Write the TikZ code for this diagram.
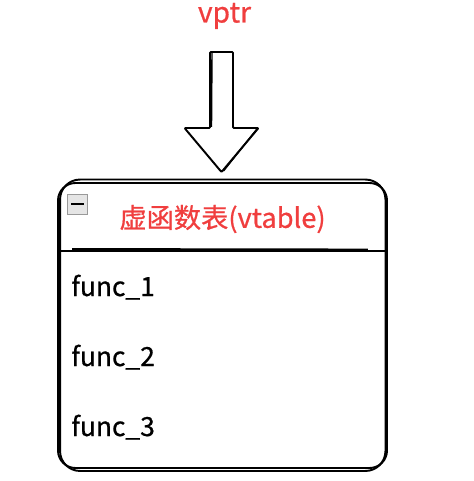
\documentclass[tikz,border=0pt]{standalone}
\usepackage{fontspec}
\setmainfont{Noto Sans CJK SC}[FakeBold=0.7]
\usetikzlibrary{positioning, calc}

\definecolor{sketchred}{RGB}{240,62,62}

\begin{document}
\begin{tikzpicture}[
    label/.style    = {text=sketchred, inner sep=0pt, font=\fontsize{16}{19}\selectfont},
    vtablebox/.style = {draw, rounded corners=0.35cm, line width=1.1pt, minimum width=6.58cm, minimum height=5.7cm},
    entry/.style    = {anchor=base west, inner sep=0pt, font=\fontsize{15}{18}\selectfont},
    rough/.style    = {line width=1.1pt, line join=round, rounded corners=0.5pt},
    icon/.style     = {draw=gray!80, fill=gray!20, minimum size=0.4cm, inner sep=0pt}
]
\useasboundingbox (0,0) rectangle (9.48,-9.62);

% Tabulka virtualnich funkci
\node[vtablebox] (vtable) at (4.45,-6.51) {};
\draw[rough, rounded corners=0.4cm]
    ($(vtable.south west)+(0.06,-0.04)$) rectangle ($(vtable.north east)+(-0.05,0.05)$);

% Hlavicka
\draw[rough] ($(vtable.north west)+(0,-1.38)$) -- ($(vtable.north east)+(0,-1.38)$);
\draw[rough] ($(vtable.north west)+(0.3,-1.34)$) -- ($(vtable.north east)+(-0.4,-1.35)$);
\node[icon] (minus) at ($(vtable.north west)+(0.41,-0.44)$) {};
\draw[line width=1.3pt] ($(minus.west)+(0.08,0)$) -- ($(minus.east)+(-0.08,0)$);
\node[label, font=\fontsize{15.5}{18}\selectfont] (vtitle)
    at ($(vtable.north)+(0,-0.74)$) {虚函数表(vtable)};

% Polozky
\foreach \i in {1,2,3}
    \node[entry] (func\i) at ($(vtable.north west)+(0.28,-2.28-1.4*\i+1.4)$) {func\_\i};

% Ukazatel vptr
\node[label, anchor=base, text height=1.6ex, text depth=0.5ex] (vptr) at (4.49,-0.45) {vptr};
\coordinate (atop) at (4.43,-1.04);
\coordinate (atip) at ($(vtable.north)+(-0.02,0.2)$);
\draw[rough] ($(atop)+(-0.23,0)$) -- ($(atop)+(-0.23,-1.52)$) -- ($(atop)+(-0.74,-1.52)$)
    -- (atip) -- ($(atop)+(0.74,-1.52)$) -- ($(atop)+(0.23,-1.52)$) -- ($(atop)+(0.23,0)$) -- cycle;
\draw[rough, line width=0.8pt] ($(atop)+(-0.19,0)$) -- ($(atop)+(-0.2,-1.5)$);
\draw[rough, line width=0.8pt] ($(atop)+(0.7,-1.55)$) -- ($(atip)+(0.04,0.02)$);

\end{tikzpicture}
\end{document}
